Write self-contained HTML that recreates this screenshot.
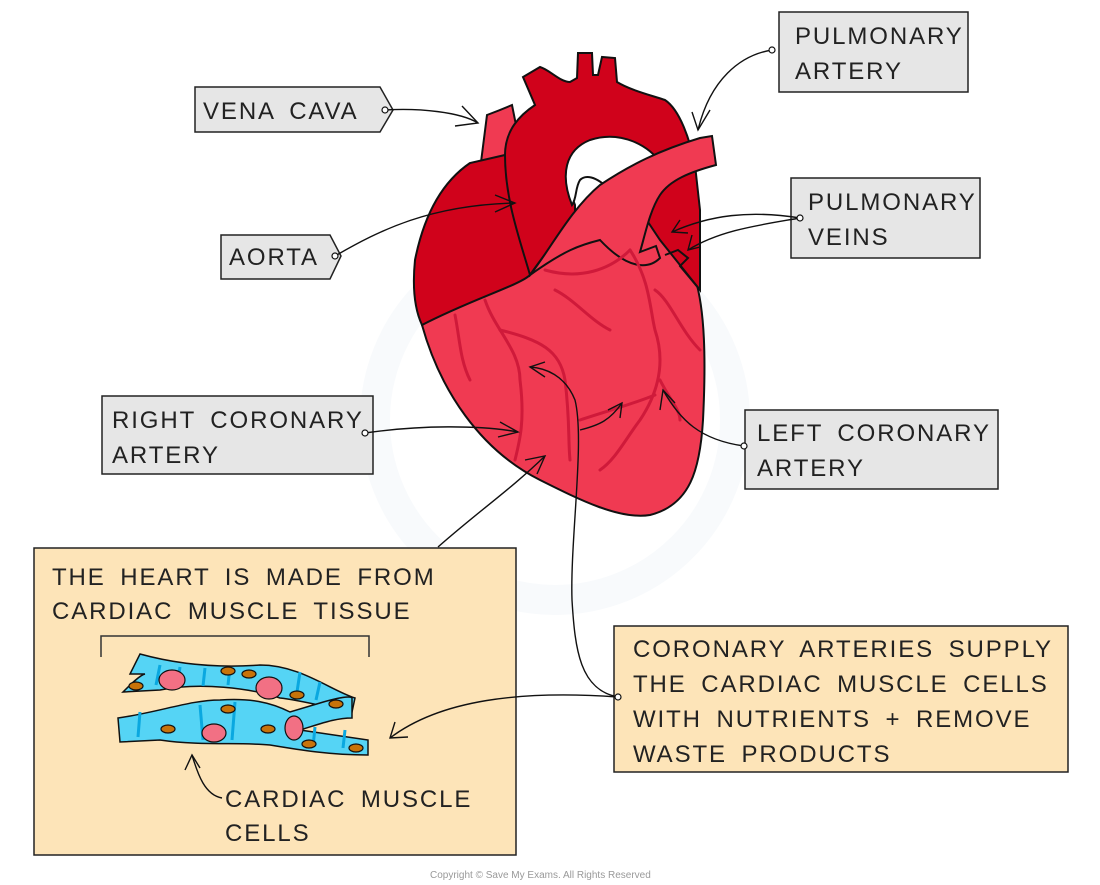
<!DOCTYPE html>
<html><head><meta charset="utf-8"><style>
body{margin:0;background:#fff;}
svg{display:block}
text{font-family:"Liberation Sans",sans-serif;font-size:24px;fill:#222;letter-spacing:1.9px;word-spacing:6px}
</style></head><body>
<svg width="1100" height="885" viewBox="0 0 1100 885" xmlns="http://www.w3.org/2000/svg">
<circle cx="555" cy="420" r="180" fill="none" stroke="#f8fafc" stroke-width="30"/>
<path d="M422,325 C440,390 480,450 540,480 C580,500 620,520 650,515 C690,505 700,470 703,420 C706,360 705,310 695,278 L690,240 L640,210 L560,240 Z" fill="#f03a52" stroke="#111" stroke-width="2"/>
<path d="M480,170 L487,115 C495,112 505,108 512,105 L518,135 L505,160 Z" fill="#f03a52" stroke="#111" stroke-width="2"/>
<path d="M470,163 C445,180 425,210 415,260 C412,290 415,310 422,325 C470,300 520,285 530,275 C550,255 560,238 575,215 L540,180 L505,155 Z" fill="#d0021b" stroke="#111" stroke-width="2"/>
<path d="M505,155 C505,130 520,115 535,105 L523,77 L540,67 C550,70 560,82 570,82 L577,78 L578,53 L592,53 L593,75 L598,75 L602,57 L615,58 L617,82 C630,90 650,95 665,100 C680,110 690,140 695,165 L700,210 L700,290 L660,240 L640,210 L600,170 C570,160 565,180 575,205 L575,215 C560,235 540,260 530,275 C520,240 505,200 505,155 Z" fill="#d0021b" stroke="#111" stroke-width="2"/>
<path d="M572,205 C560,175 565,150 590,140 C620,130 650,145 662,165 L610,190 C595,175 585,175 580,180 C575,188 577,198 572,205 Z" fill="#fff" stroke="#111" stroke-width="2"/>
<path d="M665,255 L678,250 L688,258 L680,266 L700,290" fill="none" stroke="#111" stroke-width="2"/>
<path d="M530,275 C550,250 570,210 600,185 C630,165 660,150 700,138 L712,136 L716,165 C690,172 670,180 660,195 C650,210 645,235 640,252 L656,246 L660,258 C650,268 630,272 600,240 C580,245 565,250 530,275 Z" fill="#f03a52" stroke="#111" stroke-width="2"/>
<g stroke="#cf1a3a" stroke-width="3" fill="none" stroke-linecap="round">
<path d="M485,300 C495,330 520,350 520,380 C525,420 520,440 515,460"/>
<path d="M455,315 C460,340 460,360 470,380"/>
<path d="M500,330 C540,340 560,350 565,380 C570,420 568,440 570,460"/>
<path d="M630,250 C650,280 650,310 655,330 C665,360 660,390 640,420 C625,440 615,460 600,470"/>
<path d="M655,290 C670,300 680,330 700,350"/>
<path d="M580,420 C610,410 630,405 655,395"/>
<path d="M545,270 C580,280 610,270 630,250"/>
<path d="M555,290 C575,300 590,320 610,330"/>
<path d="M660,380 C670,400 680,410 680,420"/>
</g>
<g fill="#e6e6e6" stroke="#222" stroke-width="1.5">
<path d="M195,87 L380,87 L393,110 L380,132 L195,132 Z"/>
<path d="M779,12 L968,12 L968,92 L779,92 Z"/>
<path d="M221,235 L330,235 L341,256 L330,279 L221,279 Z"/>
<path d="M791,178 L980,178 L980,258 L791,258 Z"/>
<path d="M102,396 L373,396 L373,474 L102,474 Z"/>
<path d="M745,410 L998,410 L998,489 L745,489 Z"/>
</g>
<rect x="34" y="548" width="482" height="307" fill="#fde4b8" stroke="#222" stroke-width="1.5"/>
<rect x="614" y="626" width="454" height="146" fill="#fde4b8" stroke="#222" stroke-width="1.5"/>
<g stroke="#111" stroke-width="1.4" fill="none">
<path d="M385,110 C420,108 460,112 478,123"/><path d="M462,106 L478,123 L455,126"/>
<path d="M772,50 C740,55 710,80 698,130"/><path d="M692,112 L698,130 L710,110"/>
<path d="M335,256 C380,230 430,205 515,203"/><path d="M495,195 L515,203 L495,212"/>
<path d="M800,218 C750,210 710,215 672,232"/><path d="M680,220 L672,232 L688,233"/>
<path d="M800,218 C760,225 720,230 688,250"/><path d="M692,235 L688,250 L700,247"/>
<path d="M365,433 C420,425 480,425 518,432"/><path d="M500,422 L518,432 L498,437"/>
<path d="M744,446 C700,440 680,420 663,390"/><path d="M660,410 L663,390 L675,403"/>
<path d="M438,547 C480,510 510,490 545,456"/><path d="M525,460 L545,456 L537,474"/>
<path d="M618,697 C580,690 575,650 572,600 C570,540 585,440 575,400 C565,375 545,368 530,367"/><path d="M545,362 L530,367 L545,377"/>
<path d="M580,430 C600,425 610,420 622,403"/><path d="M608,410 L622,403 L620,418"/>
<path d="M618,697 C520,690 440,700 390,738"/><path d="M395,722 L390,738 L408,737"/>
<path d="M222,798 C205,795 198,775 192,755"/><path d="M185,770 L192,755 L200,768"/>
</g>
<g fill="#fff" stroke="#111" stroke-width="1.2">
<circle cx="385" cy="110" r="3"/><circle cx="772" cy="50" r="3"/><circle cx="335" cy="256" r="3"/><circle cx="800" cy="218" r="3"/><circle cx="365" cy="433" r="3"/><circle cx="744" cy="446" r="3"/><circle cx="618" cy="697" r="3"/>
</g>
<text x="203" y="119">VENA CAVA</text>
<text x="795" y="44">PULMONARY</text><text x="795" y="79">ARTERY</text>
<text x="229" y="265">AORTA</text>
<text x="808" y="210">PULMONARY</text><text x="808" y="245">VEINS</text>
<text x="112" y="428">RIGHT CORONARY</text><text x="112" y="463">ARTERY</text>
<text x="757" y="441">LEFT CORONARY</text><text x="757" y="476">ARTERY</text>
<text x="52" y="585">THE HEART IS MADE FROM</text>
<text x="52" y="619">CARDIAC MUSCLE TISSUE</text>
<text x="633" y="657">CORONARY ARTERIES SUPPLY</text>
<text x="633" y="692">THE CARDIAC MUSCLE CELLS</text>
<text x="633" y="727">WITH NUTRIENTS + REMOVE</text>
<text x="633" y="762">WASTE PRODUCTS</text>
<text x="225" y="807">CARDIAC MUSCLE</text>
<text x="225" y="841">CELLS</text>
<path d="M101,657 L101,636 L369,636 L369,657" fill="none" stroke="#333" stroke-width="1.5"/>
<g stroke="#111" stroke-width="1.5">
<path d="M140,654 C180,665 220,668 260,665 C300,665 330,690 355,698 L352,712 C330,708 300,700 280,698 C250,688 200,682 160,690 L123,692 C130,685 140,675 145,674 L130,674 Z" fill="#55d4f5"/>
<path d="M118,718 C160,712 190,700 220,700 C250,698 270,702 290,712 L320,703 C340,697 350,696 352,698 L352,718 C335,718 320,724 300,730 L368,740 L368,755 C330,755 300,750 270,745 C240,742 200,746 160,740 L120,742 Z" fill="#55d4f5"/>
</g>
<g stroke="#0aa8e0" stroke-width="3" fill="none">
<path d="M160,665 l-4,20 M180,667 l-3,20 M205,668 l-2,18 M230,667 l-2,18 M300,672 l-3,20 M320,682 l-4,18 M140,712 l-2,25 M200,705 l3,35 M235,702 l-3,38 M315,727 l-2,20 M345,730 l-2,18"/>
</g>
<g stroke="#111" stroke-width="1.2">
<ellipse cx="172" cy="680" rx="13" ry="10" fill="#f27084"/>
<ellipse cx="269" cy="688" rx="13" ry="11" fill="#f27084"/>
<ellipse cx="214" cy="733" rx="12" ry="9" fill="#f27084"/>
<ellipse cx="294" cy="728" rx="9" ry="12" fill="#f27084"/>
<g fill="#c8730a">
<ellipse cx="136" cy="686" rx="7" ry="4"/><ellipse cx="228" cy="671" rx="7" ry="4"/><ellipse cx="249" cy="674" rx="7" ry="4"/>
<ellipse cx="297" cy="695" rx="7" ry="4"/><ellipse cx="228" cy="709" rx="7" ry="4"/><ellipse cx="168" cy="729" rx="7" ry="4"/>
<ellipse cx="268" cy="729" rx="7" ry="4"/><ellipse cx="336" cy="704" rx="7" ry="4"/><ellipse cx="309" cy="744" rx="7" ry="4"/><ellipse cx="356" cy="748" rx="7" ry="4"/>
</g></g>
<text x="430" y="878" style="font-size:10px;fill:#999;letter-spacing:0;word-spacing:0">Copyright © Save My Exams. All Rights Reserved</text>
</svg>
</body></html>
